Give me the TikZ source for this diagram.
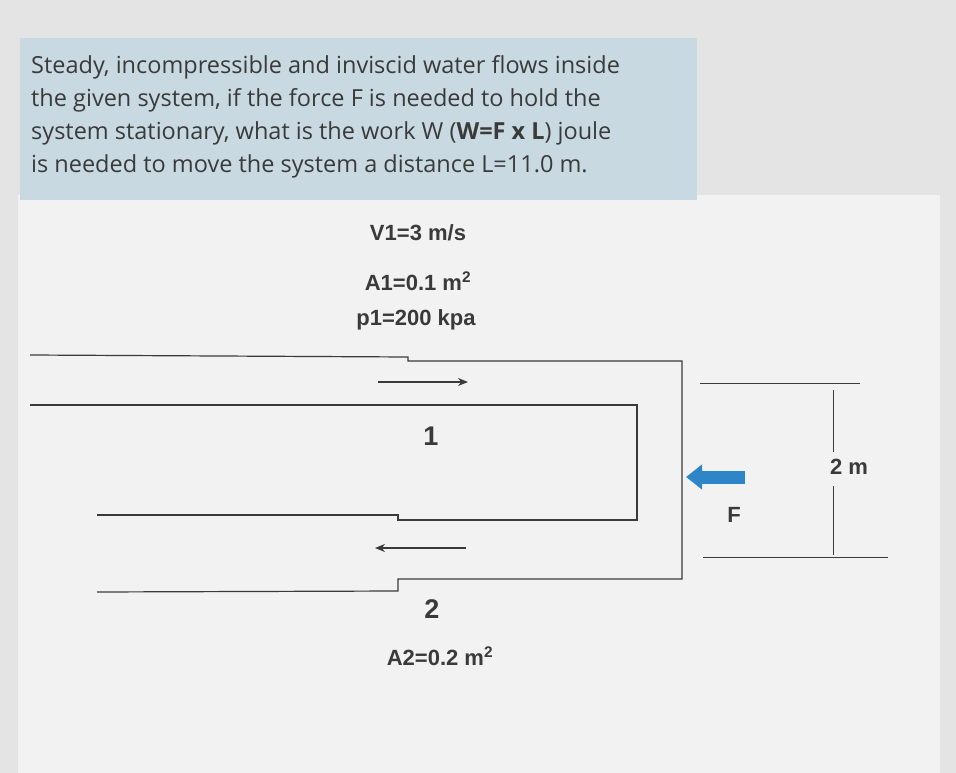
\documentclass[tikz,border=0pt]{standalone}
\usepackage{fontspec}
\setmainfont{Liberation Sans}
\newfontfamily\qfont{Open Sans}
\usetikzlibrary{arrows.meta}
\definecolor{bg}{HTML}{E4E4E4}
\definecolor{panel}{HTML}{F2F2F2}
\definecolor{qbox}{HTML}{C8D9E1}
\definecolor{ink}{HTML}{3A3A3A}
\definecolor{fblue}{HTML}{2E86C8}
\tikzset{pipe/.style={line width=1.2pt,ink},
 lbl/.style={font=\fontsize{22}{24}\selectfont\bfseries,text=ink},
 dim/.style={line width=1pt,ink}}
\begin{document}
\begin{tikzpicture}[x=1pt,y=-1pt]
\fill[bg] (0,0) rectangle (956,773);
\fill[panel] (18,195) rectangle (940,773);
\fill[qbox] (20,38) rectangle (697,200);
\node[anchor=north west,align=left,text=ink,font=\qfont\fontsize{23.5}{33}\selectfont,inner sep=0] (q) at (31,55)
{Steady, incompressible and inviscid water flows inside\\the given system, if the force F is needed to hold the\\system stationary, what is the work W (\textbf{W=F x L}) joule\\is needed to move the system a distance L=11.0 m.};
\node[lbl] (v1) at (418,233) {V1=3 m/s};
\node[lbl] (a1) at (418,281) {A1=0.1 m$^{\mathbf 2}$};
\node[lbl] (p1) at (416,320) {p1=200 kpa};
\draw[pipe] (30,355) -- (408,357) -- (408,361) -- (682,361) -- (682,579) -- (398,579) -- (398,591) -- (97,592);
\draw[pipe] (30,405) -- (408,405) -- (637,405) -- (637,520) -- (398,520) -- (398,515) -- (97,515);
\draw[line width=1.5pt,ink,-{Stealth[length=10pt,width=8pt]}] (378,382) -- (468,382);
\draw[line width=1.5pt,ink,-{Stealth[length=10pt,width=8pt]}] (466,548) -- (375,548);
\node[lbl,font=\fontsize{27}{29}\selectfont\bfseries] (n1) at (431,436) {1};
\node[lbl,font=\fontsize{27}{29}\selectfont\bfseries] (n2) at (432,609) {2};
\node[lbl] (a2) at (440,656) {A2=0.2 m$^{\mathbf 2}$};
\coordinate (ft) at (745,477);
\coordinate (fh) at (686,477);
\draw[fblue,line width=13pt,-{Triangle[length=16pt,width=24pt]}] (ft) -- (fh);
\node[lbl] (F) at (734,515) {F};
\draw[dim] (700,383) -- (860,383);
\draw[dim] (703,557) -- (888,557);
\node[lbl] (d) at (849,467) {2 m};
\draw[dim] (833,390) -- (833,452);
\draw[dim] (833,486) -- (833,555);
\end{tikzpicture}
\end{document}
